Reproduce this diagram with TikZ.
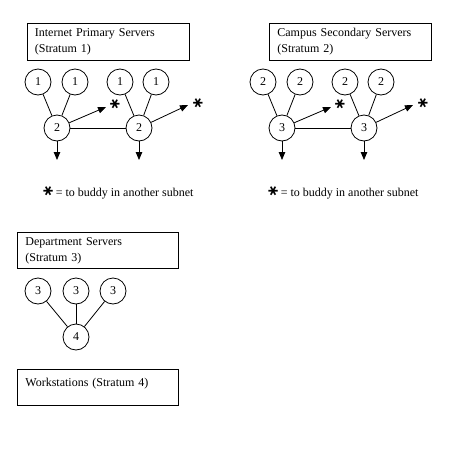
\documentclass[tikz,border=0pt]{standalone}
\usepackage{fontspec}
\usepackage{graphicx}
\setmainfont{Liberation Serif}
\newfontfamily\symf{DejaVu Sans}
\usetikzlibrary{arrows.meta}
\newcommand{\mystar}{\rotatebox[origin=c]{90}{\symf\fontsize{15}{15}\selectfont\bfseries ∗}}
\begin{document}
\begin{tikzpicture}[x=1pt,y=-1pt,line width=0.8pt,
  box/.style={draw, rectangle, anchor=north west, align=left, inner xsep=8pt, inner ysep=0pt,
    font=\fontsize{12}{16}\selectfont},
  cnode/.style={circle, draw, minimum size=26pt, inner sep=0pt, font=\fontsize{12}{12}\selectfont},
  arr/.style={-{Triangle[length=8pt,width=6.5pt]}},
  starlbl/.style={inner sep=0pt, rotate=90, font=\symf\fontsize{15}{15}\selectfont\bfseries},
  note/.style={anchor=west, inner sep=0pt, font=\fontsize{12}{12}\selectfont}]
\useasboundingbox[fill=white] (0,0) rectangle (463,450);

% ---------- Stratum 1 group ----------
\node[box, text width=146pt, minimum height=37pt] (b1) at (26.5,22.5) {Internet Primary Servers\\(Stratum 1)};
\node[cnode] (a1) at (38,82) {1};
\node[cnode] (a2) at (75,82) {1};
\node[cnode] (a3) at (120,82) {1};
\node[cnode] (a4) at (156,82) {1};
\node[cnode] (m1) at (57,128) {2};
\node[cnode] (m2) at (139,128) {2};
\draw (a1) -- (m1);
\draw (a2) -- (m1);
\draw (a3) -- (m2);
\draw (a4) -- (m2);
\draw (m1) -- (m2);
\coordinate (t1) at (106,107);
\coordinate (t2) at (188,105);
\coordinate (d1) at (57,160);
\coordinate (d2) at (139,160);
\draw[arr] (m1) -- (t1);
\draw[arr] (m2) -- (t2);
\draw[arr] (m1) -- (d1);
\draw[arr] (m2) -- (d2);
\node[starlbl] (k1) at (115,104) {∗};
\node[starlbl] (k2) at (198,103) {∗};
\node[note] (n1) at (43,192) {\mystar\ = to buddy in another subnet};

% ---------- Stratum 2 group ----------
\node[box, text width=146pt, minimum height=37pt] (b2) at (269,22.5) {Campus Secondary Servers\\(Stratum 2)};
\node[cnode] (c1) at (263,82) {2};
\node[cnode] (c2) at (300,82) {2};
\node[cnode] (c3) at (345,82) {2};
\node[cnode] (c4) at (381,82) {2};
\node[cnode] (p1) at (282,128) {3};
\node[cnode] (p2) at (364,128) {3};
\draw (c1) -- (p1);
\draw (c2) -- (p1);
\draw (c3) -- (p2);
\draw (c4) -- (p2);
\draw (p1) -- (p2);
\coordinate (u1) at (331,107);
\coordinate (u2) at (413,105);
\coordinate (e1) at (282,160);
\coordinate (e2) at (364,160);
\draw[arr] (p1) -- (u1);
\draw[arr] (p2) -- (u2);
\draw[arr] (p1) -- (e1);
\draw[arr] (p2) -- (e2);
\node[starlbl] (k3) at (340,104) {∗};
\node[starlbl] (k4) at (423,103) {∗};
\node[note] (n2) at (268,192) {\mystar\ = to buddy in another subnet};

% ---------- Stratum 3 / 4 ----------
\node[box, text width=145pt, minimum height=36pt] (b3) at (17,232) {Department Servers\\(Stratum 3)};
\node[cnode] (g1) at (38,291) {3};
\node[cnode] (g2) at (76,291) {3};
\node[cnode] (g3) at (113,291) {3};
\node[cnode] (w) at (76,337) {4};
\draw (g1) -- (w);
\draw (g2) -- (w);
\draw (g3) -- (w);
\node[box, text width=145pt, minimum height=36pt, text depth=10pt] (b4) at (17,369) {Workstations (Stratum 4)};
\end{tikzpicture}
\end{document}
